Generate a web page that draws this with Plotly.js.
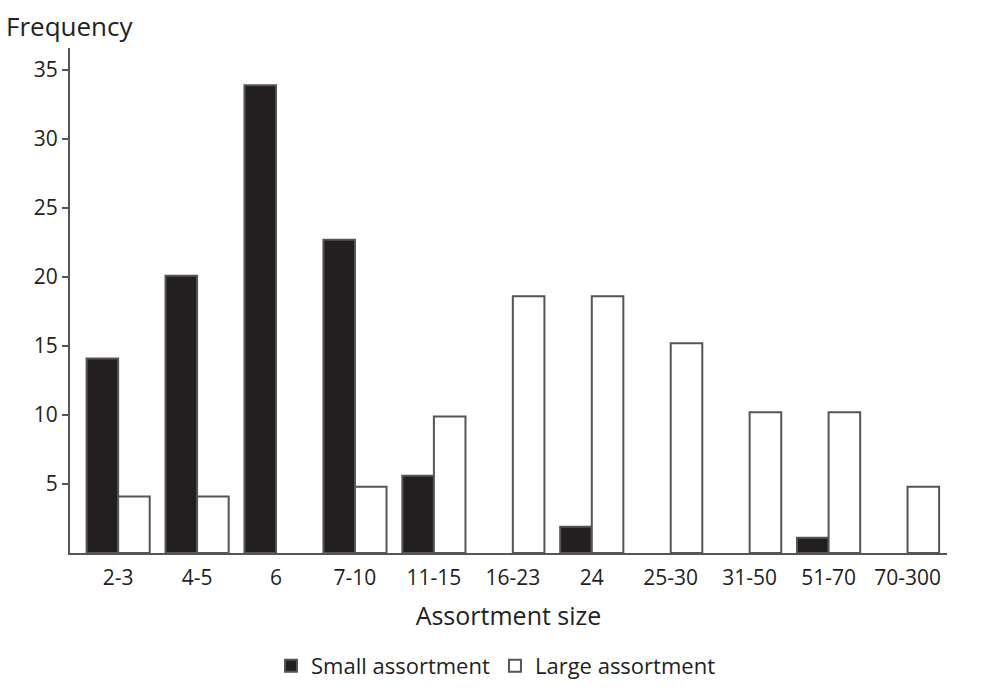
<!DOCTYPE html>
<html>
<head>
<meta charset="utf-8">
<script src="https://cdn.plot.ly/plotly-3.0.1.min.js"></script>
<style>html,body{margin:0;padding:0;background:#fff;}#chart{width:992px;height:687px;}</style>
</head>
<body>
<div id="chart"></div>
<script>
const categories = ["2-3","4-5","6","7-10","11-15","16-23","24","25-30","31-50","51-70","70-300"];
const smallAssortment = [14.1, 20.1, 33.9, 22.7, 5.6, null, 1.9, null, null, 1.1, null];
const largeAssortment = [4.1, 4.1, null, 4.8, 9.9, 18.6, 18.6, 15.2, 10.2, 10.2, 4.8];
const yTicks = [5, 10, 15, 20, 25, 30, 35];

const font = "Open Sans, sans-serif";
const traces = [
  {
    type: "bar", name: "Small assortment", x: categories, y: smallAssortment,
    marker: {color: "#231f20", line: {color: "#555555", width: 2}}
  },
  {
    type: "bar", name: "Large assortment", x: categories, y: largeAssortment,
    marker: {color: "#ffffff", line: {color: "#555555", width: 2}}
  }
];
const layout = {
  width: 992, height: 687,
  margin: {l: 70, r: 45, t: 48, b: 134},
  paper_bgcolor: "#fff", plot_bgcolor: "#fff",
  barmode: "group", bargap: 0.2, bargroupgap: 0,
  font: {family: font, color: "#231f20", size: 21},
  xaxis: {
    type: "category", range: [-0.61, 10.5], automargin: false,
    showline: true, linecolor: "#555555", linewidth: 2,
    ticks: "", showgrid: false, zeroline: false, ticklabelstandoff: 5,
    tickfont: {size: 21, family: font, color: "#231f20"},
    title: {text: "Assortment size", font: {size: 25, family: font, color: "#231f20"}, standoff: 17}
  },
  yaxis: {
    range: [0, 36.6], tickvals: yTicks, ticktext: yTicks.map(String), automargin: false,
    showline: true, linecolor: "#555555", linewidth: 2,
    ticks: "outside", ticklen: 6, tickwidth: 2, tickcolor: "#555555",
    showgrid: false, zeroline: false,
    tickfont: {size: 21, family: font, color: "#231f20"}
  },
  showlegend: true,
  legend: {
    orientation: "h", x: 0.5, xanchor: "center", xref: "container",
    y: -0.01, yanchor: "bottom", yref: "container",
    font: {size: 22, family: font, color: "#231f20"}, traceorder: "normal"
  },
  annotations: [{
    text: "Frequency", xref: "paper", yref: "paper", x: -0.075, y: 1.0 + 22/505,
    xanchor: "left", yanchor: "middle", showarrow: false,
    font: {size: 26, family: font, color: "#231f20"}
  }]
};
Plotly.newPlot("chart", traces, layout, {displayModeBar: false, staticPlot: true});
</script>
</body>
</html>
